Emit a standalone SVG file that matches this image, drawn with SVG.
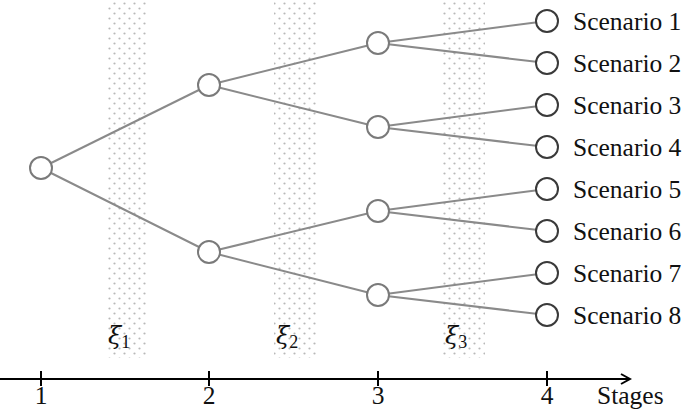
<svg xmlns="http://www.w3.org/2000/svg" width="685" height="410" viewBox="0 0 685 410">
<defs>
<pattern id="dots" width="10" height="10" patternUnits="userSpaceOnUse" x="2" y="1">
<circle cx="2.5" cy="2.5" r="1.1" fill="#b8b8b8"/>
<circle cx="7.5" cy="7.5" r="1.1" fill="#b8b8b8"/>
</pattern>
<marker id="arr" viewBox="0 0 12 12" refX="10" refY="6" markerWidth="12" markerHeight="12" markerUnits="userSpaceOnUse" orient="auto">
<path d="M1,1 L10,6 L1,11" fill="none" stroke="#000" stroke-width="2"/>
</marker>
<style>
.edge{stroke:#8a8a8a;stroke-width:2;fill:none}
.inner{fill:#fff;stroke:#7a7a7a;stroke-width:2}
.leaf{fill:#fff;stroke:#3a3a3a;stroke-width:2}
.lbl{font-family:"Liberation Serif","DejaVu Serif",serif;font-size:25.5px;fill:#111}
.xi{font-family:"DejaVu Serif","Liberation Serif",serif;font-size:24px;font-style:italic;fill:#111}
.sub{font-family:"Liberation Serif",serif;font-size:18px;font-style:normal}
.ax{stroke:#000;stroke-width:2}
</style>
</defs>
<g id="bands">
<rect x="106" y="0" width="42" height="358" fill="url(#dots)"/>
<rect x="274" y="0" width="42" height="358" fill="url(#dots)"/>
<rect x="443" y="0" width="42" height="358" fill="url(#dots)"/>
</g>
<g id="connectors">
<line class="edge" x1="41" y1="168" x2="209" y2="85"/>
<line class="edge" x1="41" y1="168" x2="209" y2="252"/>
<line class="edge" x1="209" y1="85" x2="378" y2="43"/>
<line class="edge" x1="209" y1="85" x2="378" y2="127"/>
<line class="edge" x1="209" y1="252" x2="378" y2="211"/>
<line class="edge" x1="209" y1="252" x2="378" y2="295"/>
<line class="edge" x1="378" y1="43" x2="547" y2="21"/>
<line class="edge" x1="378" y1="43" x2="547" y2="63"/>
<line class="edge" x1="378" y1="127" x2="547" y2="105"/>
<line class="edge" x1="378" y1="127" x2="547" y2="147"/>
<line class="edge" x1="378" y1="211" x2="547" y2="189"/>
<line class="edge" x1="378" y1="211" x2="547" y2="231"/>
<line class="edge" x1="378" y1="295" x2="547" y2="273"/>
<line class="edge" x1="378" y1="295" x2="547" y2="315"/>
</g>
<g id="n1"><circle class="inner" cx="41" cy="168" r="11"/></g>
<g id="n2a"><circle class="inner" cx="209" cy="85" r="11"/></g>
<g id="n2b"><circle class="inner" cx="209" cy="252" r="11"/></g>
<g id="n3a"><circle class="inner" cx="378" cy="43" r="11"/></g>
<g id="n3b"><circle class="inner" cx="378" cy="127" r="11"/></g>
<g id="n3c"><circle class="inner" cx="378" cy="211" r="11"/></g>
<g id="n3d"><circle class="inner" cx="378" cy="295" r="11"/></g>
<g id="s1"><circle class="leaf" cx="547" cy="21" r="11"/><text class="lbl" x="573" y="30">Scenario 1</text></g>
<g id="s2"><circle class="leaf" cx="547" cy="63" r="11"/><text class="lbl" x="573" y="72">Scenario 2</text></g>
<g id="s3"><circle class="leaf" cx="547" cy="105" r="11"/><text class="lbl" x="573" y="114">Scenario 3</text></g>
<g id="s4"><circle class="leaf" cx="547" cy="147" r="11"/><text class="lbl" x="573" y="156">Scenario 4</text></g>
<g id="s5"><circle class="leaf" cx="547" cy="189" r="11"/><text class="lbl" x="573" y="198">Scenario 5</text></g>
<g id="s6"><circle class="leaf" cx="547" cy="231" r="11"/><text class="lbl" x="573" y="240">Scenario 6</text></g>
<g id="s7"><circle class="leaf" cx="547" cy="273" r="11"/><text class="lbl" x="573" y="282">Scenario 7</text></g>
<g id="s8"><circle class="leaf" cx="547" cy="315" r="11"/><text class="lbl" x="573" y="324">Scenario 8</text></g>
<g id="xis">
<text class="xi" x="108" y="344">ξ<tspan class="sub" dy="4">1</tspan></text>
<text class="xi" x="276" y="344">ξ<tspan class="sub" dy="4">2</tspan></text>
<text class="xi" x="445" y="344">ξ<tspan class="sub" dy="4">3</tspan></text>
</g>
<g id="axis">
<line class="ax" x1="0" y1="379" x2="630" y2="379" marker-end="url(#arr)"/>
<line class="ax" x1="41" y1="371" x2="41" y2="386"/>
<line class="ax" x1="209" y1="371" x2="209" y2="386"/>
<line class="ax" x1="378" y1="371" x2="378" y2="386"/>
<line class="ax" x1="547" y1="371" x2="547" y2="386"/>
<text class="lbl" x="41" y="404" text-anchor="middle">1</text>
<text class="lbl" x="209" y="404" text-anchor="middle">2</text>
<text class="lbl" x="378" y="404" text-anchor="middle">3</text>
<text class="lbl" x="547" y="404" text-anchor="middle">4</text>
<text class="lbl" x="597" y="404">Stages</text>
</g>
</svg>
